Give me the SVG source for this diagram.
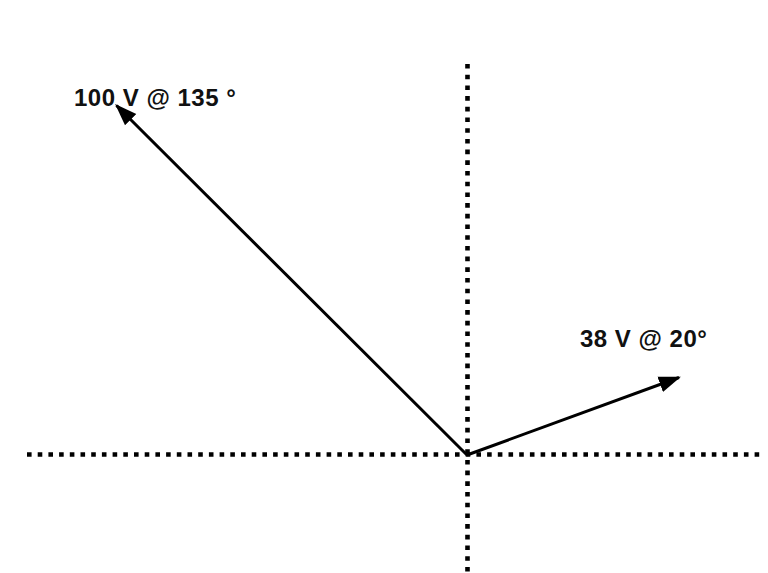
<svg xmlns="http://www.w3.org/2000/svg" width="768" height="573" viewBox="0 0 768 573">
<style>
.axis{stroke:#000;stroke-width:4.6;stroke-dasharray:4.6 6.1;fill:none}
.vec{stroke:#000;stroke-width:3;fill:none}
.lbl{font-family:"Liberation Sans",Arial,sans-serif;font-weight:bold;font-size:24px;letter-spacing:0.5px;fill:#111}
</style>
<defs>
<marker id="ah" markerUnits="userSpaceOnUse" markerWidth="24" markerHeight="18" viewBox="0 0 24 18" refX="20" refY="9" orient="auto">
<path d="M0,1 L22,9 L0,17 Z" fill="#000"/>
</marker>
</defs>
<rect width="768" height="573" fill="#fff"/>
<g id="axes">
<line class="axis" x1="27" y1="454.5" x2="764" y2="454.5"/>
<line class="axis" x1="467.5" y1="64" x2="467.5" y2="573"/>
</g>
<g id="connectors">
<line class="vec" x1="467" y1="455" x2="116.5" y2="105.5" marker-end="url(#ah)"/>
<line class="vec" x1="467" y1="455" x2="679" y2="377.5" marker-end="url(#ah)"/>
</g>
<g id="label-100">
<text class="lbl" x="74" y="106">100 V @ 135 °</text>
</g>
<g id="label-38">
<text class="lbl" x="580" y="347">38 V @ 20°</text>
</g>
</svg>
